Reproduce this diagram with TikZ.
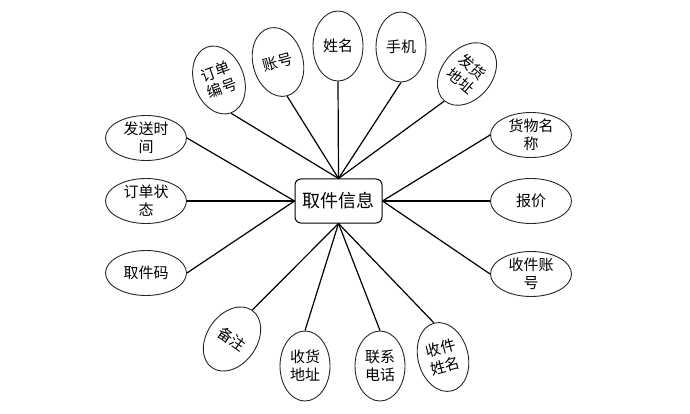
\documentclass[tikz,border=0pt]{standalone}
\usepackage{fontspec}
\setmainfont{Noto Sans CJK SC}
\usetikzlibrary{shapes.geometric}
\begin{document}
\begin{tikzpicture}[x=1pt,y=-1pt,
 attr/.style={ellipse,draw=black!85,line width=0.9pt,inner sep=-5pt,align=center,font=\fontsize{15}{18}\selectfont},
 vattr/.style={attr,minimum width=50pt,minimum height=70pt},
 hattr/.style={attr,minimum width=81pt,minimum height=45pt},
 link/.style={line width=1.2pt}]
\useasboundingbox (0,0) rectangle (690,414);
\node[draw,rounded corners=6pt,minimum width=87pt,minimum height=44pt,line width=1pt,font=\fontsize{18}{20}\selectfont,inner sep=0pt] (c) at (338.5,201) {取件信息};
% top
\node[vattr,rotate=20] (e1) at (219,80) {订单\\编号};
\node[vattr,rotate=15] (e2) at (278,62) {账号};
\node[vattr] (e3) at (338,46) {姓名};
\node[vattr] (e4) at (401,47) {手机};
\node[vattr,rotate=-40] (e5) at (467,74) {发货\\地址};
% left
\node[hattr] (l1) at (146,138) {发送时\\间};
\node[hattr] (l2) at (146,201) {订单状\\态};
\node[hattr] (l3) at (146,273) {取件码};
% right
\node[hattr] (r1) at (531,135) {货物名\\称};
\node[hattr] (r2) at (531,201) {报价};
\node[hattr] (r3) at (531,274) {收件账\\号};
% bottom
\node[vattr,rotate=-35] (b1) at (232,339) {备注};
\node[vattr] (b2) at (305,366) {收货\\地址};
\node[vattr] (b3) at (380,366) {联系\\电话};
\node[vattr,rotate=15] (b4) at (443,357) {收件\\姓名};
% links
\foreach \n in {e1,e2,e3,e4,e5} \draw[link] (c.north) -- (\n.south);
\foreach \n in {l1,l2,l3} \draw[link] (c.west) -- (\n.east);
\foreach \n in {r1,r2,r3} \draw[link] (c.east) -- (\n.west);
\foreach \n in {b1,b2,b3,b4} \draw[link] (c.south) -- (\n.north);
\end{tikzpicture}
\end{document}
